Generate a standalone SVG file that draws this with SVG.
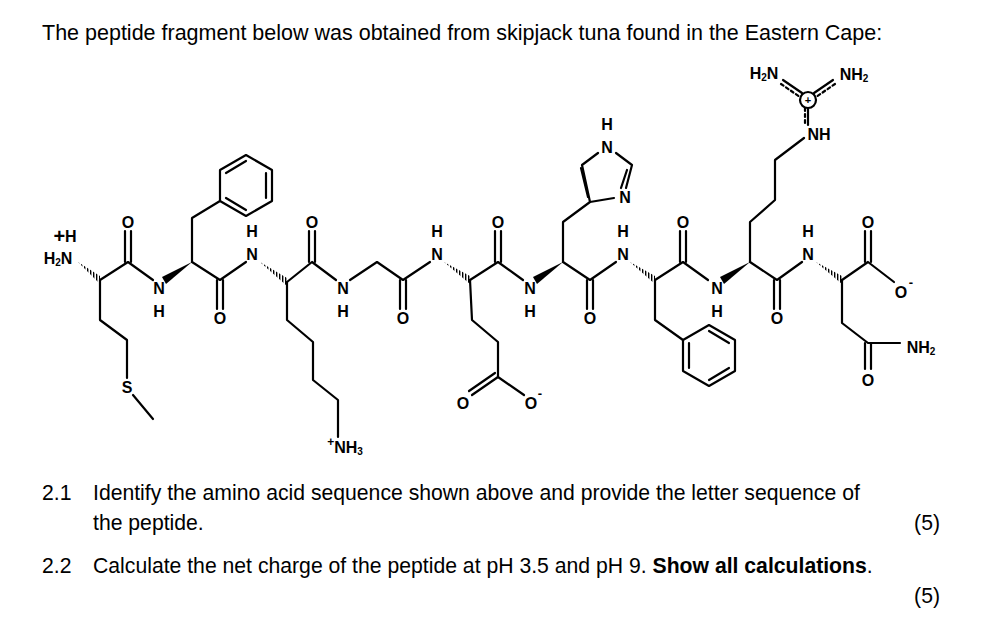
<svg xmlns="http://www.w3.org/2000/svg" width="994" height="637" viewBox="0 0 994 637">
<style>
.b{stroke:#000;stroke-width:2.2;fill:none;stroke-linecap:round;stroke-linejoin:round}
.a{font-family:"Liberation Sans",Arial,sans-serif;font-weight:bold;font-size:16px;text-anchor:middle;dominant-baseline:central}
.s{font-size:10px}
.t{font-family:"Liberation Sans",Arial,sans-serif;font-size:21.5px}
.q{font-family:"Liberation Sans",Arial,sans-serif;font-size:21.2px}
</style>
<defs>
<pattern id="h" width="3" height="3" patternUnits="userSpaceOnUse"><rect width="1.4" height="3" fill="#000"/></pattern>
</defs>
<rect width="994" height="637" fill="#fff"/>
<text class="t" x="42" y="40">The peptide fragment below was obtained from skipjack tuna found in the Eastern Cape:</text>
<g id="bonds">
<polyline class="b" points="100,280 128,262 153,280"/>
<polyline class="b" points="192,262 220,280 246,262"/>
<polyline class="b" points="287,282 312,262 336,280"/>
<polyline class="b" points="350,280 377,262 403,280 430,262"/>
<polyline class="b" points="470,280 498,262 523,280"/>
<polyline class="b" points="563,262 590,280 616,262"/>
<polyline class="b" points="655,280 683,262 708,280"/>
<polyline class="b" points="750,262 777,280 802,262"/>
<polyline class="b" points="842,280 868,262 894,282"/>
<path class="b" d="M125,231V262M131,231V262M217,280V309M223,280V309M309,231V262M315,231V262M400,280V309M406,280V309M495,231V262M501,231V262M587,280V309M593,280V309M680,231V262M686,231V262M774,280V309M780,280V309M865,231V262M871,231V262"/>
<polygon fill="url(#h)" points="78,262 100,276 100,284"/>
<polygon fill="url(#h)" points="260,262 287,278 287,286"/>
<polygon fill="url(#h)" points="444,262 470,276 470,284"/>
<polygon fill="url(#h)" points="630,262 655,276 655,284"/>
<polygon fill="url(#h)" points="816,262 842,276 842,284"/>
<polygon fill="#000" points="192,262 162,277 166,284"/>
<polygon fill="#000" points="563,262 533,277 537,284"/>
<polygon fill="#000" points="750,262 720,277 724,284"/>
<polyline class="b" points="100,280 100,320 127,340 127,378"/>
<line class="b" x1="133" y1="395" x2="153" y2="419"/>
<polyline class="b" points="192,262 192,218 220,201"/>
<polygon class="b" points="220,201 220,170 246,155 272,170 272,201 246,216"/>
<path class="b" d="M226,173L246,161M266,173V198M246,210L226,198"/>
<polyline class="b" points="287,282 287,320 313,342 313,380 338,400 338,437"/>
<polyline class="b" points="470,280 472,320 498,342 498,377 524,395"/>
<path class="b" d="M498,377L472,395M495,373L469,391"/>
<polyline class="b" points="563,262 563,222 590,202 582,165 598,153"/>
<path class="b" d="M588,197L581,168"/>
<polyline class="b" points="616,153 632,165 626,188"/>
<path class="b" d="M627,170L621,188"/>
<line class="b" x1="590" y1="202" x2="614" y2="198"/>
<polyline class="b" points="655,280 655,320 683,340"/>
<polygon class="b" points="683,340 709,325 735,340 735,371 709,386 683,371"/>
<path class="b" d="M709,331L729,343M729,368L709,380M689,368V343"/>
<polyline class="b" points="750,262 750,222 775,200 775,160 804,138"/>
<line class="b" x1="808" y1="108" x2="808" y2="125"/>
<line class="b" x1="805" y1="108" x2="805" y2="125" stroke-dasharray="3,3"/>
<line class="b" x1="783" y1="80" x2="802" y2="93"/>
<line class="b" x1="781" y1="84" x2="800" y2="97" stroke-dasharray="3,3"/>
<line class="b" x1="833" y1="80" x2="814" y2="93"/>
<line class="b" x1="835" y1="84" x2="816" y2="97" stroke-dasharray="3,3"/>
<circle class="b" cx="808" cy="100" r="8"/>
<polyline class="b" points="842,280 842,323 868,343 900,343"/>
<path class="b" d="M865,343V369M871,343V369"/>
</g>
<g id="labels">
<text class="a" x="58" y="258">H<tspan class="s" dy="4">2</tspan><tspan dy="-4">N</tspan></text>
<text class="a" x="65" y="236"><tspan style="font-size:20px">+</tspan>H</text>
<text class="a" x="128" y="222">O</text>
<text class="a" x="159" y="288">N</text><text class="a" x="159" y="311">H</text>
<text class="a" x="220" y="318">O</text>
<text class="a" x="252" y="254">N</text><text class="a" x="252" y="231">H</text>
<text class="a" x="312" y="222">O</text>
<text class="a" x="343" y="288">N</text><text class="a" x="343" y="311">H</text>
<text class="a" x="403" y="318">O</text>
<text class="a" x="437" y="254">N</text><text class="a" x="437" y="231">H</text>
<text class="a" x="498" y="222">O</text>
<text class="a" x="530" y="288">N</text><text class="a" x="530" y="311">H</text>
<text class="a" x="590" y="318">O</text>
<text class="a" x="623" y="254">N</text><text class="a" x="623" y="231">H</text>
<text class="a" x="683" y="222">O</text>
<text class="a" x="717" y="288">N</text><text class="a" x="717" y="311">H</text>
<text class="a" x="777" y="318">O</text>
<text class="a" x="808" y="254">N</text><text class="a" x="808" y="231">H</text>
<text class="a" x="868" y="222">O</text>
<text class="a" x="901" y="292">O</text><text class="a" x="911" y="282" style="font-size:13px">-</text>
<text class="a" x="127" y="387">S</text>
<text class="a" x="345" y="447"><tspan style="font-size:12px" dy="-5">+</tspan><tspan dy="5">NH</tspan><tspan class="s" dy="4">3</tspan></text>
<text class="a" x="463" y="403">O</text>
<text class="a" x="531" y="403">O</text><text class="a" x="540" y="393" style="font-size:13px">-</text>
<text class="a" x="607" y="124">H</text>
<text class="a" x="607" y="147">N</text>
<text class="a" x="625" y="197">N</text>
<text class="a" x="819" y="134">NH</text>
<text class="a" x="808" y="100" style="font-size:11px">+</text>
<text class="a" x="764" y="73">H<tspan class="s" dy="4">2</tspan><tspan dy="-4">N</tspan></text>
<text class="a" x="854" y="74">NH<tspan class="s" dy="4">2</tspan></text>
<text class="a" x="921" y="347">NH<tspan class="s" dy="4">2</tspan></text>
<text class="a" x="868" y="380">O</text>
</g>
<g id="questions" class="q">
<text x="42" y="500">2.1</text>
<text x="93" y="500">Identify the amino acid sequence shown above and provide the letter sequence of</text>
<text x="93" y="530">the peptide.</text>
<text x="940" y="530" text-anchor="end">(5)</text>
<text x="42" y="573">2.2</text>
<text x="93" y="573">Calculate the net charge of the peptide at pH 3.5 and pH 9. <tspan font-weight="bold">Show all calculations</tspan>.</text>
<text x="940" y="603" text-anchor="end">(5)</text>
</g>
</svg>
